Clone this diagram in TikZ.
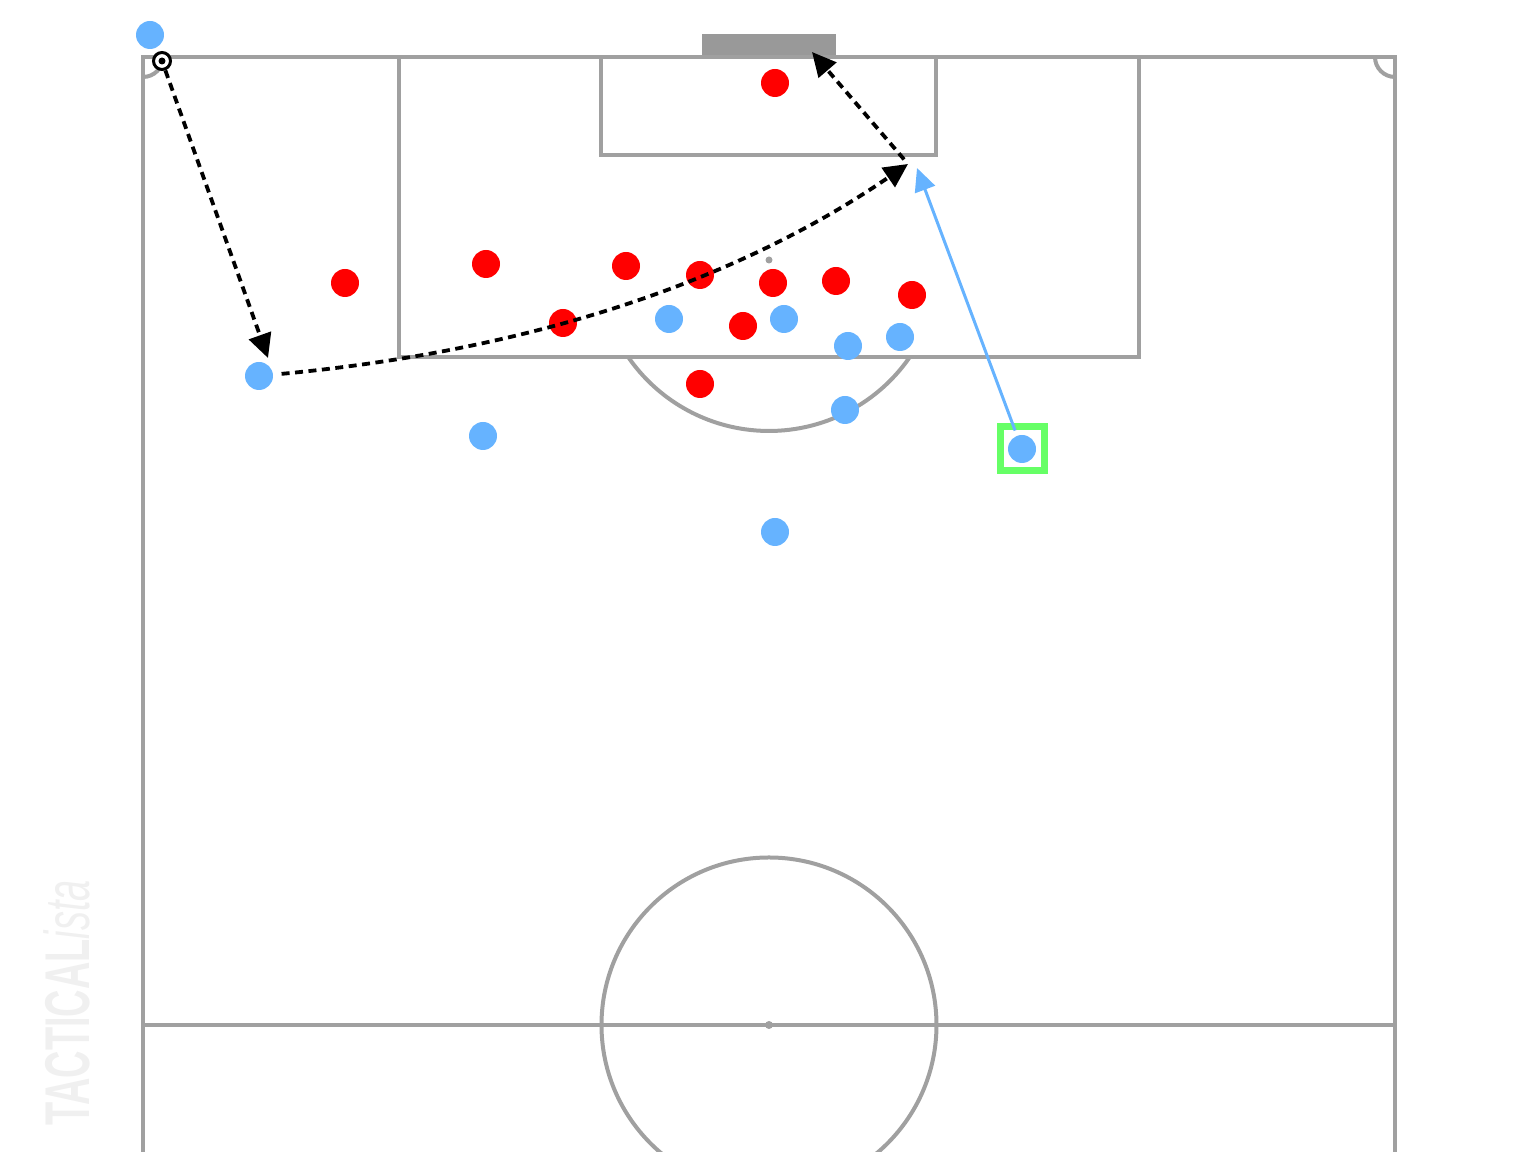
\documentclass[tikz,border=0pt]{standalone}
\usepackage{fontspec}
\newfontfamily\wmfont{Liberation Sans}
\usetikzlibrary{arrows.meta}
\definecolor{lines}{HTML}{A0A0A0}
\definecolor{goalgray}{HTML}{999999}
\definecolor{attblue}{HTML}{66B3FF}
\definecolor{dfnred}{HTML}{FF0000}
\definecolor{hlgreen}{HTML}{66FF66}
\begin{document}
\begin{tikzpicture}[x=0.1mm, y=-0.1mm,
	pitch/.style = {draw=lines, line width=0.4mm},
	att/.style = {circle, fill=attblue, minimum size=2.8mm, inner sep=0},
	dfn/.style = {circle, fill=dfnred, minimum size=2.8mm, inner sep=0},
	ball/.style = {circle, draw, line width=0.3mm, fill=white, minimum size=1.7mm, inner sep=0, path picture={\fill[black] (path picture bounding box.center) circle (0.35mm);}},
	hl/.style = {draw=hlgreen, line width=0.7mm, minimum size=4.4mm, inner sep=0},
	pass/.style = {line width=0.38mm, dash pattern=on 0.8mm off 0.55mm, -{Triangle[length=2.4mm, width=2.3mm]}},
	run/.style = {draw=attblue, line width=0.3mm, -{Triangle[length=2.3mm, width=2.1mm]}}]
			\useasboundingbox (0,0) rectangle (1536,1152);
			\clip (0,0) rectangle (1536,1152);
			\node[rotate=90, text=black!6, inner sep=0] (wm) at (67,1003) {\scalebox{0.6}[1]{\fontsize{18}{18}\selectfont\wmfont\bfseries TACTICAL\mdseries\itshape ista}};
			\fill[goalgray] (702,34) rectangle (836,57);
			\draw[pitch] (143,1160) -- (143,57) -- (1395,57) -- (1395,1160);
			\draw[pitch] (399,57) rectangle (1139,357);
			\draw[pitch] (601,57) rectangle (936,155);
			\draw[pitch] (769,260) ++(34.5:171) arc[start angle=34.5, end angle=145.5, radius=171];
			\draw[pitch] (163,57) arc[start angle=0, end angle=90, radius=20];
			\draw[pitch] (1375,57) arc[start angle=180, end angle=90, radius=20];
			\draw[pitch] (143,1025) -- (1395,1025);
			\draw[pitch] (769,1025) circle[radius=167.5];
			\fill[lines] (769,260) circle[radius=3.5];
			\fill[lines] (769,1025) circle[radius=4];
			\node[dfn] (r1) at (775,83) {};
			\node[dfn] (r2) at (345,283) {};
			\node[dfn] (r3) at (486,264) {};
			\node[dfn] (r4) at (626,266) {};
			\node[dfn] (r5) at (700,275) {};
			\node[dfn] (r6) at (773,283) {};
			\node[dfn] (r7) at (836,281) {};
			\node[dfn] (r8) at (912,295) {};
			\node[dfn] (r9) at (563,323) {};
			\node[dfn] (r10) at (743,326) {};
			\node[dfn] (r11) at (700,384) {};
			\node[att] (b1) at (150,35) {};
			\node[att] (b2) at (259,376) {};
			\node[att] (b3) at (483,436) {};
			\node[att] (b4) at (669,319) {};
			\node[att] (b5) at (784,319) {};
			\node[att] (b6) at (848,346) {};
			\node[att] (b7) at (900,337) {};
			\node[att] (b8) at (845,410) {};
			\node[att] (b9) at (1022,449) {};
			\node[att] (b10) at (775,532) {};
			\node[hl] (box) at (1022,449) {};
			\node[ball] (ball) at (162,61) {};
			\coordinate (c1) at (268,358);
			\coordinate (c2) at (908,164);
			\coordinate (c3) at (812,52);
			\coordinate (c4) at (917,168);
			\draw[pass] (ball) -- (c1);
			\draw[pass, shorten <=0.8mm] (b2) .. controls (525,351) and (733,284) .. (c2);
			\draw[pass, shorten <=0.6mm] (c2) -- (c3);
			\draw[run, shorten <=0.5mm] (b9) -- (c4);
		\end{tikzpicture}
\end{document}
